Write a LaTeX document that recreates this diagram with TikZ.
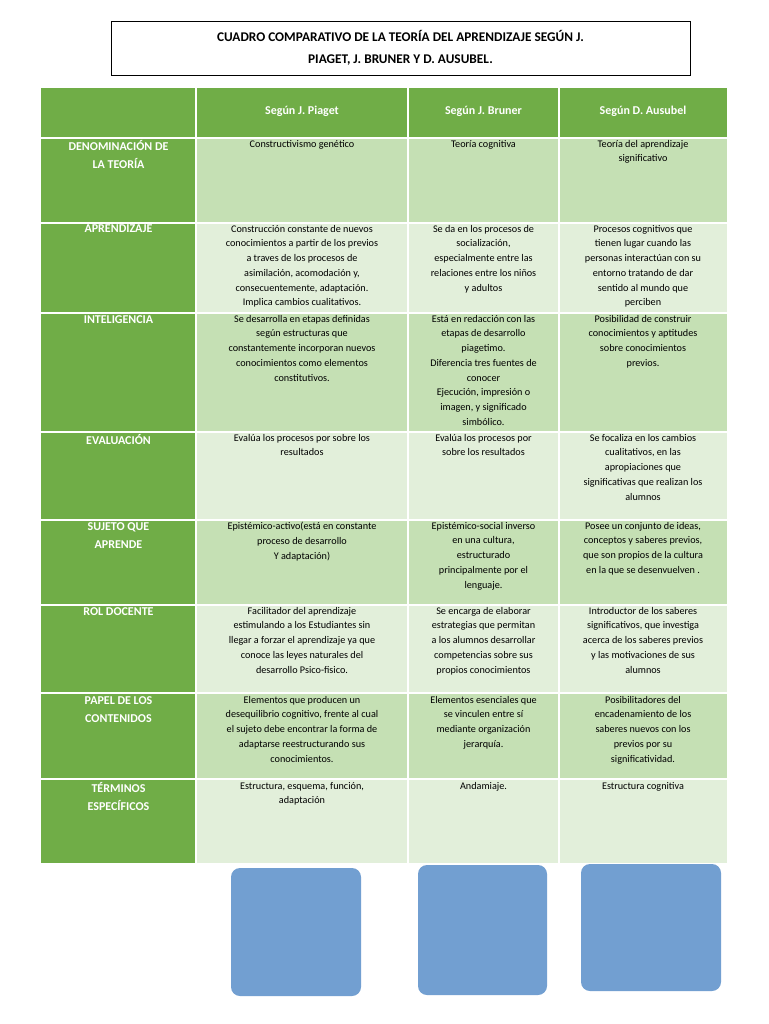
\documentclass[tikz,border=0pt]{standalone}
\usepackage{fontspec}
\setmainfont{Carlito}
\begin{document}
\begin{tikzpicture}[x=1pt,y=-1pt,
  cellt/.style={anchor=north,align=center,font=\fontsize{10.2}{14.7}\selectfont,inner sep=0pt},
  rowt/.style={anchor=north,align=center,font=\bfseries\fontsize{12}{18}\selectfont,text=white,inner sep=0pt},
  bluebox/.style={fill=blue1,rounded corners=9pt}]
\definecolor{green1}{HTML}{70AD47}
\definecolor{dark1}{HTML}{C5E0B4}
\definecolor{light1}{HTML}{E2EFDA}
\definecolor{blue1}{HTML}{729FD1}
\useasboundingbox (0,0) rectangle (768,1024);
\fill[white] (0,0) rectangle (768,1024);
\draw[line width=0.8pt] (111,21) rectangle (690,75);
\node[align=center,font=\bfseries\fontsize{13.3}{22}\selectfont] (title) at (400.5,48) {CUADRO COMPARATIVO DE LA TEORÍA DEL APRENDIZAJE SEGÚN J.\\PIAGET, J. BRUNER Y D. AUSUBEL.};
% header
\fill[green1] (41,88) rectangle (727,138);
\fill[green1] (41,138) rectangle (196,863);
\node[rowt] (h1) at (302,106) {Según J. Piaget};
\node[rowt] (h2) at (483.5,106) {Según J. Bruner};
\node[rowt] (h3) at (643,106) {Según D. Ausubel};
\def\rows{138/223/dark1,223/313/light1,313/432/dark1,432/520/light1,520/605/dark1,605/693/light1,693/779/dark1,779/863/light1}
\foreach \a/\b/\c in \rows {\fill[\c] (196,\a) rectangle (727,\b);}
\foreach \a/\b/\c in \rows {\draw[white,line width=1.2pt] (41,\a) -- (727,\a);}
\foreach \x in {196,408,559} {\draw[white,line width=1.2pt] (\x,88) -- (\x,863);}
% row labels
\node[rowt] (r1) at (118.5,140) {DENOMINACIÓN DE\\LA TEORÍA};
\node[rowt] (r2) at (118.5,225) {APRENDIZAJE};
\node[rowt] (r3) at (118.5,315) {INTELIGENCIA};
\node[rowt] (r4) at (118.5,434) {EVALUACIÓN};
\node[rowt] (r5) at (118.5,522) {SUJETO QUE\\APRENDE};
\node[rowt] (r6) at (118.5,607) {ROL DOCENTE};
\node[rowt] (r7) at (118.5,696) {PAPEL DE LOS\\CONTENIDOS};
\node[rowt] (r8) at (118.5,782) {TÉRMINOS\\ESPECÍFICOS};
% cells
\node[cellt] (c11) at (302,140) {Constructivismo genético};
\node[cellt] (c12) at (483.5,140) {Teoría cognitiva};
\node[cellt] (c13) at (643,140) {Teoría del aprendizaje\\significativo};
\node[cellt] (c21) at (302,225) {Construcción constante de nuevos\\conocimientos a partir de los previos\\a traves de los procesos de\\asimilación, acomodación y,\\consecuentemente, adaptación.\\Implica cambios cualitativos.};
\node[cellt] (c22) at (483.5,225) {Se da en los procesos de\\socialización,\\especialmente entre las\\relaciones entre los niños\\y adultos};
\node[cellt] (c23) at (643,225) {Procesos cognitivos que\\tienen lugar cuando las\\personas interactúan con su\\entorno tratando de dar\\sentido al mundo que\\perciben};
\node[cellt] (c31) at (302,315) {Se desarrolla en etapas definidas\\según estructuras que\\constantemente incorporan nuevos\\conocimientos como elementos\\constitutivos.};
\node[cellt] (c32) at (483.5,315) {Está en redacción con las\\etapas de desarrollo\\piagetimo.\\Diferencia tres fuentes de\\conocer\\Ejecución, impresión o\\imagen, y significado\\simbólico.};
\node[cellt] (c33) at (643,315) {Posibilidad de construir\\conocimientos y aptitudes\\sobre conocimientos\\previos.};
\node[cellt] (c41) at (302,434) {Evalúa los procesos por sobre los\\resultados};
\node[cellt] (c42) at (483.5,434) {Evalúa los procesos por\\sobre los resultados};
\node[cellt] (c43) at (643,434) {Se focaliza en los cambios\\cualitativos, en las\\apropiaciones que\\significativas que realizan los\\alumnos};
\node[cellt] (c51) at (302,522) {Epistémico-activo(está en constante\\proceso de desarrollo\\Y adaptación)};
\node[cellt] (c52) at (483.5,522) {Epistémico-social inverso\\en una cultura,\\estructurado\\principalmente por el\\lenguaje.};
\node[cellt] (c53) at (643,522) {Posee un conjunto de ideas,\\conceptos y saberes previos,\\que son propios de la cultura\\en la que se desenvuelven .};
\node[cellt] (c61) at (302,607) {Facilitador del aprendizaje\\estimulando a los Estudiantes sin\\llegar a forzar el aprendizaje ya que\\conoce las leyes naturales del\\desarrollo Psico-fisico.};
\node[cellt] (c62) at (483.5,607) {Se encarga de elaborar\\estrategias que permitan\\a los alumnos desarrollar\\competencias sobre sus\\propios conocimientos};
\node[cellt] (c63) at (643,607) {Introductor de los saberes\\significativos, que investiga\\acerca de los saberes previos\\y las motivaciones de sus\\alumnos};
\node[cellt] (c71) at (302,696) {Elementos que producen un\\desequilibrio cognitivo, frente al cual\\el sujeto debe encontrar la forma de\\adaptarse reestructurando sus\\conocimientos.};
\node[cellt] (c72) at (483.5,696) {Elementos esenciales que\\se vinculen entre sí\\mediante organización\\jerarquía.};
\node[cellt] (c73) at (643,696) {Posibilitadores del\\encadenamiento de los\\saberes nuevos con los\\previos por su\\significatividad.};
\node[cellt] (c81) at (302,782) {Estructura, esquema, función,\\adaptación};
\node[cellt] (c82) at (483.5,782) {Andamiaje.};
\node[cellt] (c83) at (643,782) {Estructura cognitiva};
% blue boxes
\fill[bluebox] (231,868) rectangle (361,996);
\fill[bluebox] (418,865) rectangle (547,995);
\fill[bluebox] (581,864) rectangle (721,991);
\end{tikzpicture}
\end{document}
